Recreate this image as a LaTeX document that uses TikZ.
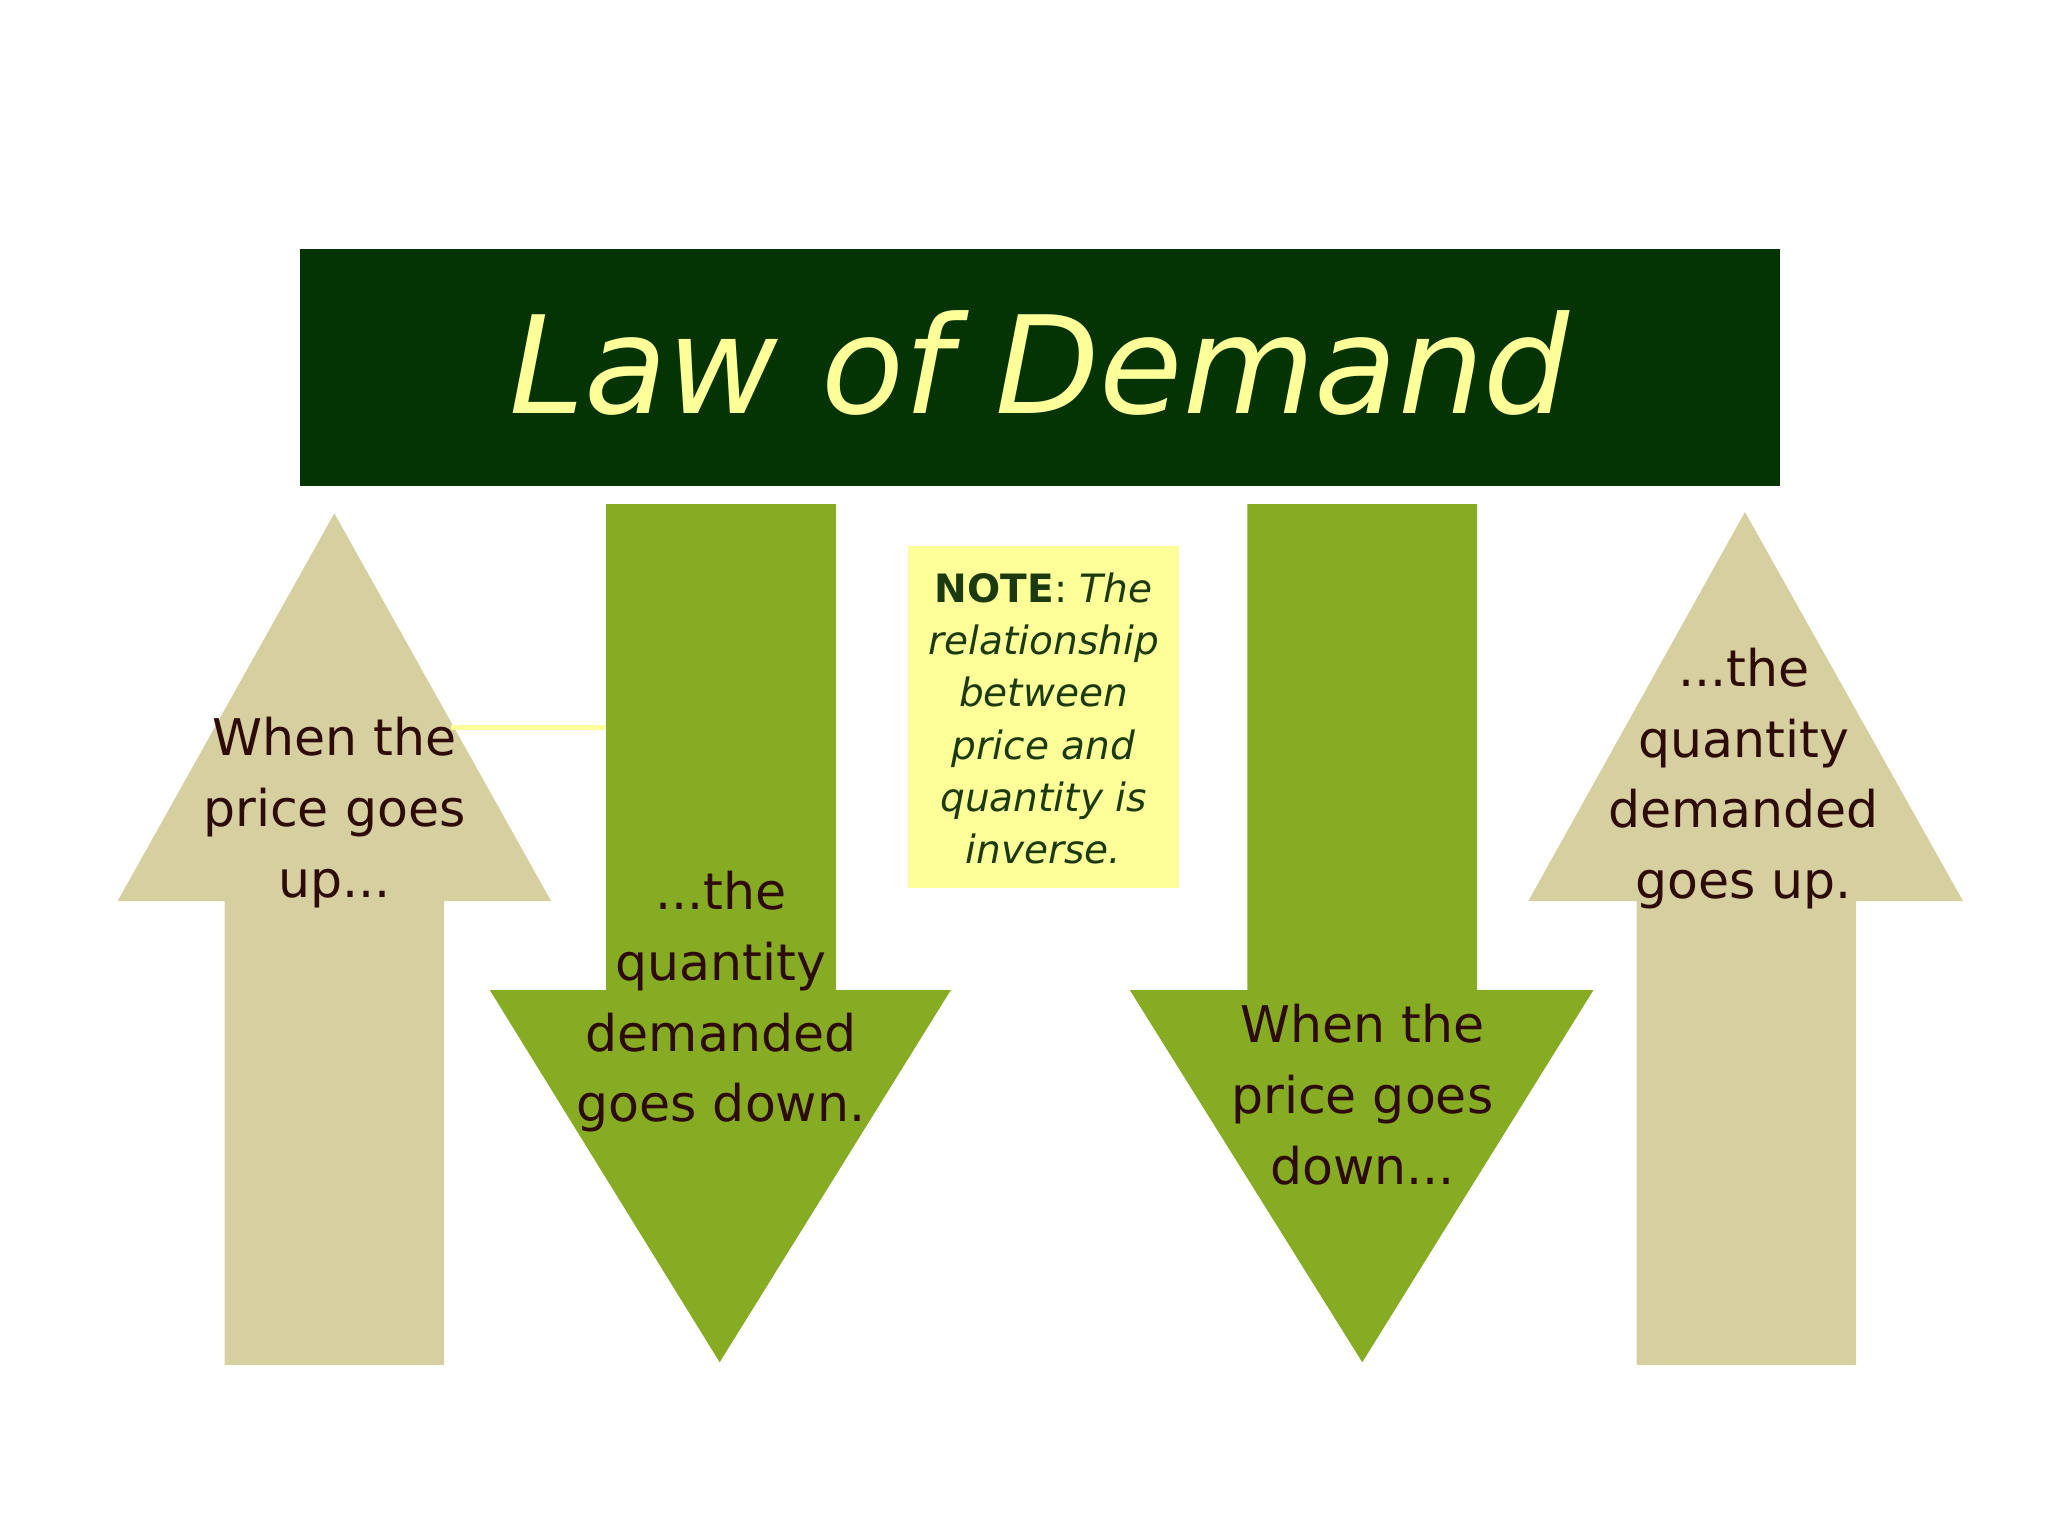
\documentclass[tikz,border=0pt]{standalone}
\usepackage{fontspec}
\setmainfont{DejaVu Sans}
\begin{document}
\begin{tikzpicture}[x=0.01cm,y=-0.01cm,
  tan/.style={fill=tanc,draw=none},
  grn/.style={fill=grnc,draw=none},
  lbl/.style={align=center,text=txtc,font=\fontsize{11}{15.4}\selectfont},
]
\definecolor{tanc}{HTML}{D6CFA0}
\definecolor{grnc}{HTML}{86AC24}
\definecolor{darkg}{HTML}{043304}
\definecolor{yel}{HTML}{FFFF99}
\definecolor{txtc}{HTML}{2E0A08}
\definecolor{notec}{HTML}{1C3A10}
\useasboundingbox (0,0) rectangle (1568,1176);
\fill[darkg] (230,191) rectangle (1363,372);
\node[text=yel,font=\fontsize{29.5}{32}\selectfont\itshape] (title) at (796,278) {Law of Demand};
% left up arrow
\fill[tan] (256,393) -- (422,690) -- (340,690) -- (340,1045) -- (172,1045) -- (172,690) -- (90,690) -- cycle;
% left down arrow
\fill[grn] (464,386) -- (640,386) -- (640,758) -- (728,758) -- (551,1043) -- (375,758) -- (464,758) -- cycle;
% right down arrow
\fill[grn] (955,386) -- (1131,386) -- (1131,758) -- (1220,758) -- (1043,1043) -- (865,758) -- (955,758) -- cycle;
% right up arrow
\fill[tan] (1336,392) -- (1503,690) -- (1421,690) -- (1421,1045) -- (1253,1045) -- (1253,690) -- (1170,690) -- cycle;
% faint line
\coordinate (la) at (345,557); \coordinate (lb) at (463,557);
\draw[yel,line width=1.2pt] (la) -- (lb);
% note
\fill[yel] (695,418) rectangle (903,680);
\node[align=center,text=notec,font=\fontsize{8.5}{11.4}\selectfont] (note) at (799,550)
 {\textbf{NOTE}: \textit{The}\\ \textit{relationship}\\ \textit{between}\\ \textit{price and}\\ \textit{quantity is}\\ \textit{inverse.}};
\node[lbl] (t1) at (256,622) {When the\\price goes\\up...};
\node[lbl] (t2) at (552,767) {...the\\quantity\\demanded\\goes down.};
\node[lbl] (t3) at (1043,838) {When the\\price goes\\down...};
\node[lbl] (t4) at (1335,596) {...the\\quantity\\demanded\\goes up.};
\end{tikzpicture}
\end{document}
